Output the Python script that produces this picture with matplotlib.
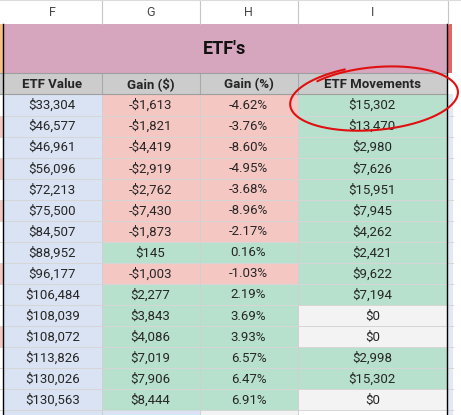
import matplotlib
matplotlib.use("Agg")
import matplotlib.pyplot as plt
from matplotlib.patches import Rectangle
import numpy as np

# ---- data ----
col_letters = ["F", "G", "H", "I"]
title = "ETF's"
headers = ["ETF Value", "Gain ($)", "Gain (%)", "ETF Movements"]
etf_value = [33304, 46577, 46961, 56096, 72213, 75500, 84507, 88952, 96177,
             106484, 108039, 108072, 113826, 130026, 130563]
gain_usd = [-1613, -1821, -4419, -2919, -2762, -7430, -1873, 145, -1003,
            2277, 3843, 4086, 7019, 7906, 8444]
gain_pct = [-4.62, -3.76, -8.60, -4.95, -3.68, -8.96, -2.17, 0.16, -1.03,
            2.19, 3.69, 3.93, 6.57, 6.47, 6.91]
etf_movements = [15302, 13470, 2980, 7626, 15951, 7945, 4262, 2421, 9622,
                 7194, 0, 0, 2998, 15302, 0]
left_strip_pink_rows = [1, 3, 5, 8, 11]

# ---- style ----
W, H = 461, 415
FONT = "Roboto"
BLUE = "#dae3f3"
RED = "#f4c7c3"
GREEN = "#b7e1cd"
GREYC = "#f3f3f3"
TITLE_BG = "#d5a6bd"
HEAD_BG = "#cccccc"
TXT = "#262626"

x_edges = [3, 101.5, 199.5, 297.5, 447]
y_title = (24, 73)
y_head = (73, 94.5)
row_h = 21.05
y0 = 94.5

fig = plt.figure(figsize=(W / 100, H / 100), dpi=100)
ax = fig.add_axes([0, 0, 1, 1])
ax.set_xlim(0, W)
ax.set_ylim(H, 0)
ax.axis("off")

def rect(x0, y0_, x1, y1, fc, z=1):
    ax.add_patch(Rectangle((x0, y0_), x1 - x0, y1 - y0_, facecolor=fc,
                           edgecolor="none", linewidth=0, zorder=z))

def money(v):
    s = "${:,}".format(abs(v))
    return "-" + s if v < 0 else s

rect(0, 0, W, H, "white", z=0)

# column header row
for i, L in enumerate(col_letters):
    cx = (x_edges[i] + x_edges[i + 1]) / 2
    ax.text(cx, 12, L, ha="center", va="center", fontsize=9,
            family=FONT, color="#444746", zorder=5)
for xe in x_edges[1:-1] + [448]:
    ax.plot([xe, xe], [0, 24], color="#c4c7c5", lw=0.8, zorder=4)
ax.plot([0, W], [0.5, 0.5], color="#dcdcdc", lw=0.8, zorder=4)

# title row
rect(x_edges[0], y_title[0], x_edges[-1], y_title[1], TITLE_BG)
rect(0, y_title[0], x_edges[0], y_title[1], "#f6c27f")
rect(x_edges[-1], y_title[0], 452, y_title[1], "#e06666")
ax.text((x_edges[0] + x_edges[-1]) / 2, 49, title, ha="center", va="center",
        fontsize=13, fontweight="bold", family=FONT, color="#111111", zorder=5)

# header row
rect(0, y_head[0], x_edges[-1], y_head[1], HEAD_BG)
for i, h in enumerate(headers):
    cx = (x_edges[i] + x_edges[i + 1]) / 2
    ax.text(cx, (y_head[0] + y_head[1]) / 2 + 0.5, h, ha="center", va="center",
            fontsize=9.5, fontweight="bold", family=FONT, color=TXT, zorder=5)
for xe in x_edges[1:-1]:
    ax.plot([xe, xe], y_head, color="#a9a9a9", lw=0.8, zorder=4)
ax.plot([0, x_edges[-1]], [y_head[0], y_head[0]], color="#9e9e9e", lw=0.8, zorder=4)
ax.plot([0, x_edges[-1]], [y_head[1], y_head[1]], color="#9e9e9e", lw=0.8, zorder=4)

# data rows
n = len(etf_value)
for r in range(n + 1):
    top = y0 + r * row_h
    bot = top + row_h
    cy = top + row_h / 2 + 0.5
    if r < n:
        g = gain_usd[r]
        fills = [BLUE, RED if g < 0 else GREEN, RED if g < 0 else GREEN,
                 GREEN if etf_movements[r] > 0 else GREYC]
        texts = [money(etf_value[r]), money(g), "{:.2f}%".format(gain_pct[r]),
                 money(etf_movements[r])]
    else:
        fills = [BLUE, BLUE, GREYC, "white"]
        texts = ["", "", "", ""]
    for c in range(4):
        rect(x_edges[c], top, x_edges[c + 1], bot, fills[c])
        if texts[c]:
            ax.text((x_edges[c] + x_edges[c + 1]) / 2, cy, texts[c],
                    ha="center", va="center", fontsize=9.5, family=FONT,
                    color=TXT, zorder=5)
    strip = RED if r in left_strip_pink_rows else "white"
    rect(0, top, x_edges[0], bot, strip)
    rect(x_edges[-1], top, 453, bot, "#e3e8f4")
    ax.plot([0, 453], [bot, bot], color="#d6d6d6", lw=0.7, zorder=3)
for xe in x_edges[1:-1]:
    ax.plot([xe, xe], [y0, H], color="#d0d0d0", lw=0.7, zorder=3)

# outer borders
ax.plot([x_edges[0], x_edges[0]], [y_title[0], H], color="black", lw=1.0, zorder=6)
ax.plot([x_edges[-1], x_edges[-1]], [y_title[0], H], color="black", lw=1.0, zorder=6)

# hand-drawn red ellipse
cx, cy, a, b = 375.5, 98.0, 83, 31.5
phi = np.deg2rad(-5)
t = np.linspace(0, 2 * np.pi + 0.45, 400)
th = t - 2.35
scale = 1 + 0.07 * (t / (2 * np.pi)) - 0.03
ex = cx + scale * (a * np.cos(th) * np.cos(phi) - b * np.sin(th) * np.sin(phi))
ey = cy + scale * (a * np.cos(th) * np.sin(phi) + b * np.sin(th) * np.cos(phi))
ax.plot(ex, ey, color="#e01010", lw=1.5, zorder=8, solid_capstyle="round")

fig.savefig("out.png", dpi=100)
